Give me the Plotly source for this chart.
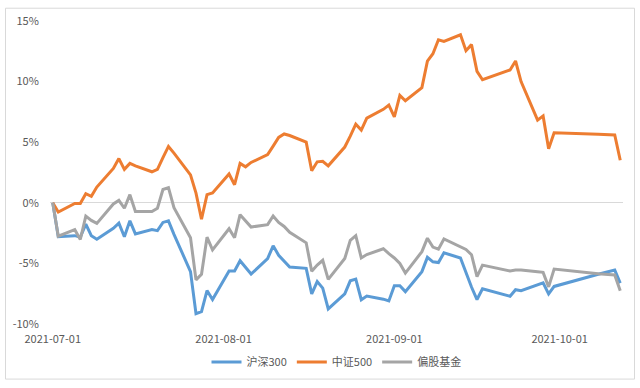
import plotly.graph_objects as go

dates = [
    "2021-07-01", "2021-07-02", "2021-07-05", "2021-07-06", "2021-07-07", "2021-07-08", "2021-07-09",
    "2021-07-12", "2021-07-13", "2021-07-14", "2021-07-15", "2021-07-16",
    "2021-07-19", "2021-07-20", "2021-07-21", "2021-07-22", "2021-07-23",
    "2021-07-26", "2021-07-27", "2021-07-28", "2021-07-29", "2021-07-30",
    "2021-08-02", "2021-08-03", "2021-08-04", "2021-08-05", "2021-08-06",
    "2021-08-09", "2021-08-10", "2021-08-11", "2021-08-12", "2021-08-13",
    "2021-08-16", "2021-08-17", "2021-08-18", "2021-08-19", "2021-08-20",
    "2021-08-23", "2021-08-24", "2021-08-25", "2021-08-26", "2021-08-27",
    "2021-08-30", "2021-08-31", "2021-09-01", "2021-09-02", "2021-09-03",
    "2021-09-06", "2021-09-07", "2021-09-08", "2021-09-09", "2021-09-10",
    "2021-09-13", "2021-09-14", "2021-09-15", "2021-09-16", "2021-09-17",
    "2021-09-22", "2021-09-23", "2021-09-24",
    "2021-09-27", "2021-09-28", "2021-09-29", "2021-09-30",
    "2021-10-08", "2021-10-11", "2021-10-12",
]

hs300 = [
    0, -2.8, -2.71, -2.84, -1.76, -2.71, -3.0,
    -2.1, -1.68, -2.8, -1.49, -2.57,
    -2.2, -2.3, -1.62, -1.49, -2.6,
    -5.68, -9.15, -8.98, -7.24, -7.98,
    -5.63, -5.63, -4.78, -5.3, -5.88,
    -4.6, -3.55, -4.33, -4.8, -5.3,
    -5.41, -7.52, -6.5, -7.04, -8.76,
    -7.52, -6.44, -6.3, -8.0, -7.7,
    -7.95, -8.1, -6.84, -6.84, -7.33,
    -5.68, -4.5, -4.87, -4.93, -4.13,
    -4.55, -5.8, -6.95, -7.98, -7.09,
    -7.71, -7.17, -7.25,
    -6.77, -6.6, -7.52, -6.9,
    -5.9, -5.55, -6.63,
]

zz500 = [
    0, -0.76, -0.06, -0.06, 0.75, 0.54, 1.3,
    2.84, 3.65, 2.76, 3.25, 3.05,
    2.56, 2.76, 3.73, 4.65, 4.1,
    2.3, 0.8, -1.36, 0.67, 0.81,
    2.38, 1.49, 3.25, 2.97, 3.33,
    3.98, 4.68, 5.4, 5.68, 5.55,
    5.0, 2.65, 3.38, 3.43, 3.05,
    4.6, 5.5, 6.49, 6.0, 6.98,
    7.71, 8.06, 7.09, 8.86, 8.42,
    9.5, 11.69, 12.3, 13.45, 13.31,
    13.86, 12.55, 13.05, 10.85, 10.15,
    10.96, 11.7, 10.0,
    6.82, 7.17, 4.46, 5.78,
    5.65, 5.6, 3.51,
]

fund = [
    0, -2.76, -2.22, -3.03, -1.1, -1.45, -1.7,
    -0.1, 0.2, -0.45, 0.67, -0.72,
    -0.72, -0.45, 1.1, 1.25, -0.4,
    -2.88, -6.36, -5.9, -2.84, -3.88,
    -2.14, -2.88, -0.98, -1.45, -2.0,
    -1.8, -1.09, -1.62, -1.95, -2.44,
    -3.3, -5.65, -5.14, -4.74, -6.32,
    -4.6, -3.1, -2.71, -4.55, -4.27,
    -3.79, -4.2, -4.55, -5.0, -5.8,
    -4.03, -2.92, -3.65, -3.82, -2.98,
    -3.65, -3.85, -4.28, -6.09, -5.14,
    -5.63, -5.55, -5.55,
    -5.68, -5.74, -6.94, -5.47,
    -5.85, -5.96, -7.26,
]

series_names = ["沪深300", "中证500", "偏股基金"]
series_colors = ["#5B9BD5", "#ED7D31", "#A5A5A5"]

y_tickvals = [-10, -5, 0, 5, 10, 15]
y_ticktext = ["-10%", "-5%", "0%", "5%", "10%", "15%"]
x_tickvals = ["2021-07-01", "2021-08-01", "2021-09-01", "2021-10-01"]
x_minor_ticks = ["2021-07-31 12:00", "2021-08-31 12:00", "2021-09-30 12:00"]

W, H = 640, 388
L, R, T, B = 50, 17, 18.5, 61.5
pw, ph = W - L - R, H - T - B

font_family = "Microsoft YaHei, Noto Sans CJK SC, Noto Sans, sans-serif"
text_color = "#595959"

fig = go.Figure()
for name, vals, col in zip(series_names, [hs300, zz500, fund], series_colors):
    fig.add_trace(go.Scatter(x=dates, y=vals, mode="lines", name=name,
                             line=dict(color=col, width=3)))

def px_x(p):
    return (p - L) / pw

def px_y(p):
    return (H - B - p) / ph

fig.update_layout(
    width=W, height=H,
    margin=dict(l=L, r=R, t=T, b=B, pad=0),
    paper_bgcolor="white", plot_bgcolor="white",
    font=dict(family=font_family, size=11, color=text_color),
    showlegend=True,
    legend=dict(orientation="h", x=0.5, xanchor="center", y=px_y(365), yanchor="middle",
                font=dict(size=11, color=text_color), bgcolor="rgba(0,0,0,0)"),
    xaxis=dict(type="date", range=["2021-06-30 12:00", "2021-10-12 12:00"],
               tickvals=x_tickvals, ticktext=x_tickvals,
               showgrid=False, zeroline=False, showline=False,
               ticks="outside", ticklen=5, tickcolor="rgba(0,0,0,0)",
               tickfont=dict(size=11, color=text_color)),
    xaxis2=dict(type="date", overlaying="x", matches="x", anchor="free", position=0.4,
                side="bottom", tickvals=x_minor_ticks, showticklabels=False,
                ticks="outside", ticklen=4, tickcolor="#D9D9D9", tickwidth=1,
                showgrid=False, zeroline=False, showline=False),
    yaxis=dict(range=[-10, 15], tickvals=y_tickvals, ticktext=y_ticktext,
               showgrid=False, zeroline=True, zerolinecolor="#D9D9D9", zerolinewidth=1,
               showline=False, ticks="outside", ticklen=8, tickcolor="rgba(0,0,0,0)",
               tickfont=dict(size=11, color=text_color)),
    shapes=[dict(type="rect", xref="paper", yref="paper",
                 x0=px_x(5.5), x1=px_x(634.5), y0=px_y(382.5), y1=px_y(5.5),
                 line=dict(color="#D9D9D9", width=1), fillcolor="rgba(0,0,0,0)", layer="below")],
)

fig.write_html("out.html")
